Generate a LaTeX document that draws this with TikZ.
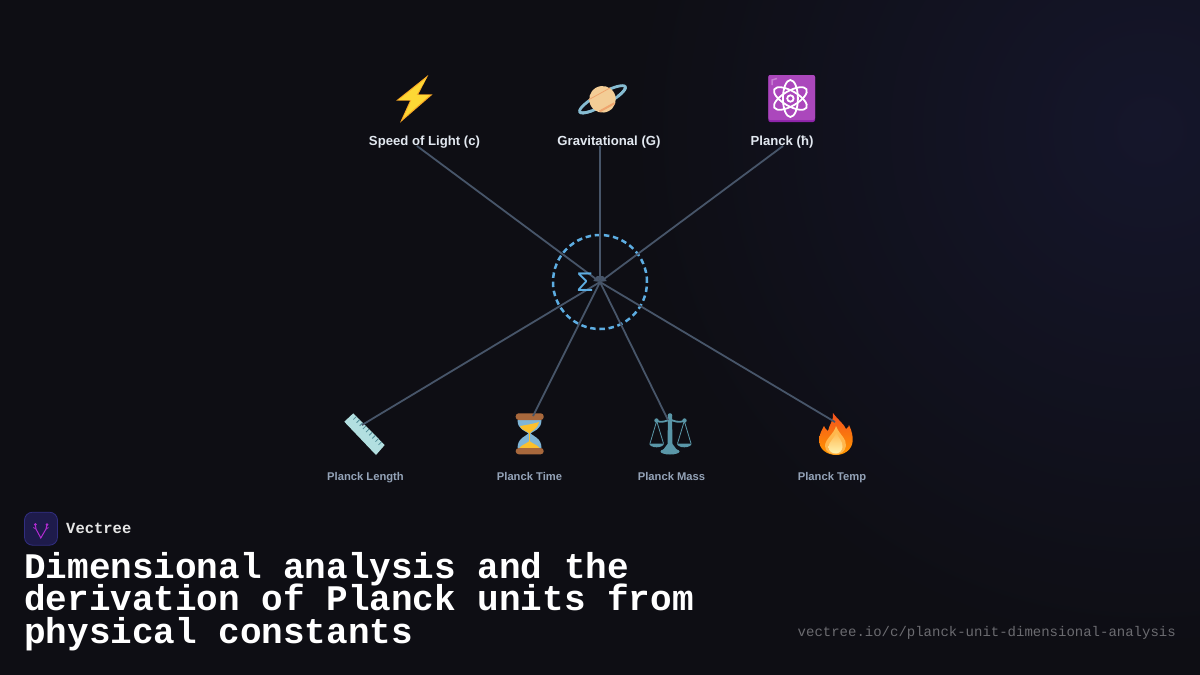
\documentclass[tikz,border=0pt]{standalone}
\usepackage{fontspec}
\usetikzlibrary{arrows.meta,calc}
\setmainfont{Liberation Sans}
\setmonofont{Liberation Mono}
\definecolor{bgdark}{HTML}{0E0E14}
\definecolor{bgblue}{HTML}{15162B}
\definecolor{linkgray}{HTML}{475569}
\definecolor{hubblue}{HTML}{5DADE2}
\definecolor{inlabel}{HTML}{E2E8F0}
\definecolor{outlabel}{HTML}{94A3B8}
\definecolor{urlgray}{HTML}{6B6B70}
\definecolor{boltdark}{HTML}{F9A825}
\definecolor{boltlight}{HTML}{FDD835}
\definecolor{ringblue}{HTML}{86BCD2}
\definecolor{planetbody}{HTML}{F3CD96}
\definecolor{planetband}{HTML}{EFA56E}
\definecolor{atomfill}{HTML}{AB47BC}
\definecolor{atomedge}{HTML}{8E24AA}
\definecolor{atomshine}{HTML}{C77DD3}
\definecolor{rulerfill}{HTML}{B2DFE0}
\definecolor{rulertick}{HTML}{4F8A96}
\definecolor{glassblue}{HTML}{7FB5D6}
\definecolor{sandgold}{HTML}{FBC02D}
\definecolor{capbrown}{HTML}{A8683C}
\definecolor{scaleteal}{HTML}{5A97A8}
\definecolor{flamered}{HTML}{F4511E}
\definecolor{flameorange}{HTML}{FF9800}
\definecolor{flamecore}{HTML}{FFF3B0}
\definecolor{flamemid}{HTML}{FFB74D}
\definecolor{logofill}{HTML}{1E1B4B}
\definecolor{logoedge}{HTML}{312E81}
\definecolor{logomark}{HTML}{B02BD0}
\newcommand{\titlefont}{\fontsize{36}{32.4}\selectfont\ttfamily\bfseries\lineskiplimit=-100pt\relax}
\begin{document}
\begin{tikzpicture}[x=1pt, y=-1pt]
      \tikzset{
        link/.style={draw=linkgray, line width=1.8pt},
        in label/.style={font=\fontsize{13.15}{15}\selectfont\bfseries, text=inlabel, inner sep=0pt, anchor=base},
        out label/.style={font=\fontsize{11.2}{13}\selectfont\bfseries, text=outlabel, inner sep=0pt, anchor=base},
        ruler tick/.style={draw=rulertick, line width=.8pt},
        scale string/.style={draw=scaleteal, line width=.8pt}
      }
      \useasboundingbox (0,0) rectangle (1200,675);
      
      % Background
      \fill[bgdark] (0,0) rectangle (1200,675);
      \begin{scope}
        \clip (0,0) rectangle (1200,675);
        \shade[inner color=bgblue, outer color=bgdark] (1150,130) circle [radius=520];
      \end{scope}
      
      % Bolt
      \fill[boltdark] (428.3,75) -- (396,100.7) -- (410,100.7) -- (400,122.7) -- (432.7,94.3) -- (418.3,94.3) -- cycle;
      \fill[boltlight] (426.5,78) -- (398.5,100) -- (411.5,100) -- (403,118.5) -- (430,95) -- (416.5,95) -- cycle;
      
      % Planet
      \begin{scope}[rotate around={29:(602.5,99.3)}]
        \draw[draw=ringblue, line width=2.8pt] (602.5,99.3) ellipse [x radius=26, y radius=6];
        \fill[planetbody] (602.5,99.3) circle [radius=13.3];
        \draw[planetband, line width=2pt] (594,108.5) -- (611,108.5);
        \draw[planetband, line width=.8pt] (590,93) -- (615,93);
        \draw[draw=ringblue, line width=2.8pt] (576.5,99.3) arc [start angle=180, end angle=125, x radius=26, y radius=6];
        \draw[draw=ringblue, line width=2.8pt] (628.5,99.3) arc [start angle=0, end angle=55, x radius=26, y radius=6];
      \end{scope}
      
      % Atom
      \fill[atomedge, rounded corners=2pt] (768.3,75) rectangle (815,122);
      \fill[atomfill, rounded corners=2pt] (768.3,75) rectangle (815,120);
      \draw[atomshine, line width=1.5pt] (772,85) -- (772,80) -- (777,78.5);
      \foreach \ang in {0,60,120} {
        \draw[white, line width=1.8pt, rotate around={\ang:(790.4,98.5)}] (790.4,98.5) ellipse [x radius=7.5, y radius=18.5];
      }
      \draw[white, line width=1.8pt] (790.4,98.5) circle [radius=3.2];
      
      % Ruler
      \fill[rulerfill] (353.3,413.3) -- (344.3,421.7) -- (376,455) -- (384.7,445) -- cycle;
      \foreach \t in {.1,.2,...,.95} {
        \draw[ruler tick] ($(353.3,413.3)!\t!(384.7,445)$) -- ++(-3,3);
      }
      
      % Hourglass
      \fill[glassblue] (517.5,420) .. controls (517.5,430) and (526,431) .. (528.5,433.5) .. controls (526,436) and (517.5,438) .. (517.5,448) -- (541.5,448) .. controls (541.5,438) and (533,436) .. (530.5,433.5) .. controls (533,431) and (541.5,430) .. (541.5,420) -- cycle;
      \fill[sandgold] (520,426) .. controls (526,425) and (533,424) .. (539,422) .. controls (538,429) and (532,430) .. (529.5,433.5) .. controls (527,431) and (521,430) .. (520,426) -- cycle;
      \draw[sandgold, line width=.8pt] (529.5,433) -- (529.5,442);
      \fill[sandgold] (529.5,441) .. controls (533,444) and (538,445) .. (540,448.5) -- (519,448.5) .. controls (521,445) and (526,444) .. (529.5,441) -- cycle;
      \fill[capbrown, rounded corners=3pt] (515.7,413.3) rectangle (543.7,420);
      \fill[capbrown, rounded corners=3pt] (515.7,448) rectangle (543.7,454.3);
      
      % Scales
      \fill[scaleteal] (668,416) -- (672,416) -- (672.5,444) -- (677,450) -- (663,450) -- (667.5,444) -- cycle;
      \fill[scaleteal] (670,451.5) ellipse [x radius=9.5, y radius=3];
      \fill[scaleteal] (670,415.5) circle [radius=2.3];
      \draw[scaleteal, line width=1.8pt] (656.5,421) .. controls (662,423) and (666,421) .. (670,419.5) .. controls (674,421) and (678,423) .. (684.5,421);
      \fill[scaleteal] (656.5,420.5) circle [radius=2.2] (684.5,420.5) circle [radius=2.2];
      \draw[scale string] (650,443.5) -- (656.7,421) -- (663.5,443.5);
      \draw[scale string] (677.5,443.5) -- (684.3,421) -- (691,443.5);
      \fill[scaleteal] (649.3,443.5) arc [start angle=180, end angle=0, x radius=7.3, y radius=3.8] -- cycle;
      \fill[scaleteal] (677,443.5) arc [start angle=180, end angle=0, x radius=7.3, y radius=3.8] -- cycle;
      
      % Flame
      \shade[top color=flamered, bottom color=flameorange] (833,413) .. controls (839,421) and (844,424) .. (846,429) .. controls (848,428) and (849,426) .. (849,425) .. controls (852,431) and (853,437) .. (852.7,441) .. controls (852,450) and (844,455) .. (836,455) .. controls (827,455) and (819,449) .. (819.3,441) .. controls (819,434) and (822,430) .. (824,426) .. controls (825,428) and (826,430) .. (828,431) .. controls (829,425) and (834,420) .. (833,413) -- cycle;
      \fill[flamemid] (836,426) .. controls (839,434) and (847,439) .. (846,446) .. controls (845,452) and (840,454.5) .. (836,454.5) .. controls (831,454.5) and (825,452) .. (825,446) .. controls (825,439) and (834,434) .. (836,426) -- cycle;
      \shade[top color=flamemid, bottom color=flamecore] (836.5,432) .. controls (838,438) and (843,441) .. (842.5,447) .. controls (842,451) and (839,453.5) .. (836,453.5) .. controls (832,453.5) and (828.5,451) .. (828.5,447) .. controls (828.5,442) and (835,438) .. (836.5,432) -- cycle;
      
      % Hub and free ends of the links
      \node[circle, draw=hubblue, line width=2.5pt, dash pattern=on 5.5pt off 3.7pt, minimum size=94pt, inner sep=0pt] (hub) at (600,282) {};
      \coordinate (speedEnd) at (417,146);
      \coordinate (gravEnd) at (600,146);
      \coordinate (planckEnd) at (783,146);
      \coordinate (lengthEnd) at (362,425);
      \coordinate (timeEnd) at (533,416);
      \coordinate (massEnd) at (668,420);
      \coordinate (tempEnd) at (835,422);
      
      % Links into the hub
      \foreach \from in {speedEnd,gravEnd,planckEnd} {
        \draw[link, -{Stealth[length=6pt,width=6pt,inset=0pt]}] (\from) -- (hub.center);
      }
      % Links out of the hub
      \foreach \to in {lengthEnd,timeEnd,massEnd,tempEnd} {
        \draw[link] (hub.center) -- (\to);
      }
      \node[text=hubblue, font=\fontsize{27}{29}\selectfont, inner sep=0pt] (sigma) at (585,282) {Σ};
      
      % Labels
      \node[in label] (speed) at (424.5,145.5) {Speed of Light (c)};
      \node[in label] (grav) at (609,145.5) {Gravitational (G)};
      \node[in label] (planck) at (782,145.5) {Planck (ħ)};
      \node[out label] (length) at (365.5,480) {Planck Length};
      \node[out label] (time) at (529.5,480) {Planck Time};
      \node[out label] (mass) at (671.5,480) {Planck Mass};
      \node[out label] (temp) at (832,480) {Planck Temp};
      
      % Logo
      \node[draw=logoedge, fill=logofill, rounded corners=8pt, minimum size=33pt, inner sep=0pt, line width=.8pt] (logo) at (41,528.7) {};
      \draw[logomark, line width=1pt] (35.3,524.5) -- (36,529) -- (40.8,538) -- (46,529) -- (47,524.5);
      \draw[logomark, line width=.8pt] (33.3,527.5) -- (36,529) (48.5,527.5) -- (46,529);
      \fill[logomark] (35.3,524.5) circle [radius=1.5] (47,524.5) circle [radius=1.5];
      \node[font=\fontsize{15.5}{18}\selectfont\ttfamily\bfseries, text=white!90!black, anchor=west, inner sep=0pt] (brand) at (66,528.7) {Vectree};
      
      % Title and link
      \node[font=\titlefont, text=white, align=left, anchor=north west, inner sep=0pt] (title) at (24,552) {Dimensional analysis and the\\derivation of Planck units from\\physical constants};
      \node[font=\fontsize{14}{16}\selectfont\ttfamily, text=urlgray, anchor=east, inner sep=0pt] (url) at (1176,633) {vectree.io/c/planck-unit-dimensional-analysis};
    \end{tikzpicture}
\end{document}
